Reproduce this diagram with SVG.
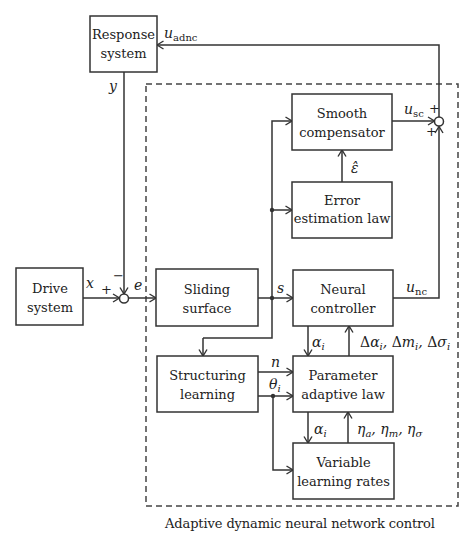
<svg xmlns="http://www.w3.org/2000/svg" width="474" height="549" viewBox="0 0 474 549" font-family="'DejaVu Serif', serif">
<defs>
<marker id="arr" viewBox="0 0 8 10" refX="7.5" refY="5" markerWidth="8" markerHeight="10" markerUnits="userSpaceOnUse" orient="auto">
<path d="M1,1 L7.5,5 L1,9" fill="none" stroke="#333" stroke-width="1.4"/>
</marker>
</defs>
<style>
text{font-family:'DejaVu Serif',serif}
.box{fill:#fff;stroke:#333;stroke-width:1.5}
.t{font-size:13px;fill:#222;text-anchor:middle}
.m{font-size:14px;fill:#222;font-style:italic}
.s{font-size:10px;font-style:normal}
.si{font-size:10px}
.c{fill:none;stroke:#333;stroke-width:1.5}
.a{fill:none;stroke:#333;stroke-width:1.5;marker-end:url(#arr)}
.d{fill:#333}
</style>
<rect width="474" height="549" fill="#fff"/>
<rect x="146" y="84" width="312" height="422" fill="none" stroke="#444" stroke-width="1.5" stroke-dasharray="6,4"/>
<text class="t" x="300" y="528" textLength="270">Adaptive dynamic neural network control</text>

<g id="connectors">
<path class="a" d="M439,117 V45 H157"/>
<path class="a" d="M124,72 V294"/>
<path class="a" d="M83,298 H119.5"/>
<path class="a" d="M128.5,298 H156"/>
<path class="a" d="M258,298 H293"/>
<path class="a" d="M272,298 V121 H292"/>
<path class="a" d="M272,210 H292"/>
<path class="c" d="M272,298 V338 H203"/>
<path class="a" d="M203,338 V356"/>
<path class="a" d="M342,182 V150"/>
<path class="a" d="M392,121 H434.5"/>
<path class="a" d="M393,298 H439 V126.5"/>
<path class="a" d="M308,326 V356"/>
<path class="a" d="M349,356 V326"/>
<path class="a" d="M258,372 H293"/>
<path class="a" d="M258,396 H293"/>
<path class="a" d="M273,396 V470 H293"/>
<path class="a" d="M308,412 V443"/>
<path class="a" d="M348,443 V412"/>
<circle cx="439" cy="121.5" r="4.5" fill="#fff" stroke="#333" stroke-width="1.5"/>
<circle cx="124" cy="298.5" r="4.5" fill="#fff" stroke="#333" stroke-width="1.5"/>
<circle class="d" cx="272" cy="298" r="2.2"/>
<circle class="d" cx="272" cy="210" r="2.2"/>
<circle class="d" cx="273" cy="396" r="2.2"/>
</g>

<g id="response">
<rect class="box" x="90" y="16" width="67" height="56"/>
<text class="t" x="123.5" y="39">Response</text>
<text class="t" x="123.5" y="58">system</text>
</g>
<g id="drive">
<rect class="box" x="16" y="268" width="67" height="57"/>
<text class="t" x="50" y="293">Drive</text>
<text class="t" x="50" y="312">system</text>
</g>
<g id="sliding">
<rect class="box" x="156" y="269" width="102" height="57"/>
<text class="t" x="207" y="294">Sliding</text>
<text class="t" x="207" y="313">surface</text>
</g>
<g id="structuring">
<rect class="box" x="157" y="356" width="101" height="56"/>
<text class="t" x="207.5" y="380">Structuring</text>
<text class="t" x="207.5" y="399">learning</text>
</g>
<g id="smooth">
<rect class="box" x="292" y="94" width="100" height="56"/>
<text class="t" x="342" y="118">Smooth</text>
<text class="t" x="342" y="137">compensator</text>
</g>
<g id="error">
<rect class="box" x="292" y="182" width="100" height="56"/>
<text class="t" x="342" y="205">Error</text>
<text class="t" x="342" y="223">estimation law</text>
</g>
<g id="neural">
<rect class="box" x="293" y="270" width="100" height="56"/>
<text class="t" x="343" y="294">Neural</text>
<text class="t" x="343" y="313">controller</text>
</g>
<g id="parameter">
<rect class="box" x="293" y="356" width="100" height="56"/>
<text class="t" x="343" y="380">Parameter</text>
<text class="t" x="343" y="399">adaptive law</text>
</g>
<g id="variable">
<rect class="box" x="293" y="443" width="101" height="56"/>
<text class="t" x="343.5" y="467">Variable</text>
<text class="t" x="343.5" y="486">learning rates</text>
</g>

<g id="labels">
<text class="m" x="164" y="38">u<tspan class="s" dy="3">adnc</tspan></text>
<text class="m" x="109" y="91">y</text>
<text class="m" x="86" y="288">x</text>
<text class="m" x="101" y="294" style="font-style:normal;font-size:13px">+</text>
<text class="m" x="113" y="280" style="font-style:normal;font-size:13px">−</text>
<text class="m" x="134" y="290">e</text>
<text class="m" x="277" y="293">s</text>
<text class="m" x="351" y="173">ε̂</text>
<text class="m" x="404" y="114">u<tspan class="s" dy="3">sc</tspan></text>
<text class="m" x="429" y="113" style="font-style:normal;font-size:13px">+</text>
<text class="m" x="426" y="136" style="font-style:normal;font-size:13px">+</text>
<text class="m" x="406" y="292">u<tspan class="s" dy="3">nc</tspan></text>
<text class="m" x="312" y="347">α<tspan class="si" dy="3">i</tspan></text>
<text class="m" x="360" y="347"><tspan style="font-style:normal">Δ</tspan>α<tspan class="si" dy="3">i</tspan><tspan dy="-3">, </tspan><tspan style="font-style:normal">Δ</tspan>m<tspan class="si" dy="3">i</tspan><tspan dy="-3">, </tspan><tspan style="font-style:normal">Δ</tspan>σ<tspan class="si" dy="3">i</tspan></text>
<text class="m" x="271" y="367">n</text>
<text class="m" x="269" y="389">θ<tspan class="si" dy="3">i</tspan></text>
<text class="m" x="314" y="434">α<tspan class="si" dy="3">i</tspan></text>
<text class="m" x="357" y="434">η<tspan class="si" dy="3">a</tspan><tspan dy="-3">, η</tspan><tspan class="si" dy="3">m</tspan><tspan dy="-3">, η</tspan><tspan class="si" dy="3">σ</tspan></text>
</g>
</svg>
